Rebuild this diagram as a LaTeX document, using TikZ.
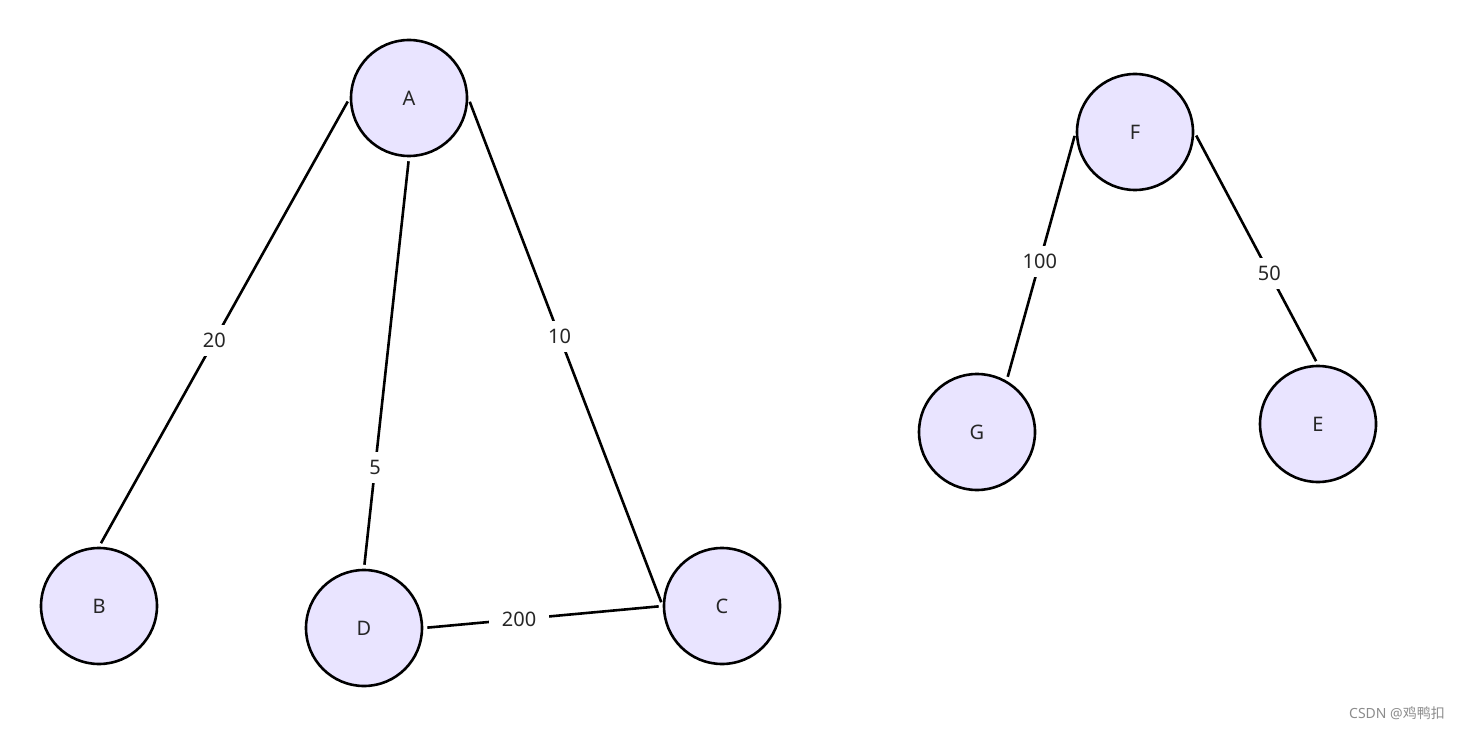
\documentclass[tikz,border=0pt]{standalone}
\usepackage{fontspec}
\setmainfont{Noto Sans}
\newfontfamily\cjkfont{Noto Sans CJK SC}
\definecolor{nodefill}{HTML}{E9E4FF}
\usetikzlibrary{positioning}

\begin{document}
\begin{tikzpicture}[x=1pt, y=-1pt,
    vertex/.style={circle, draw=black, line width=2.6pt, fill=nodefill,
      minimum size=116pt, inner sep=0pt, text=black!85,
      font=\fontsize{20}{24}\selectfont},
    edge/.style={line width=2.6pt, shorten <=4pt, shorten >=4pt},
    weight/.style={fill=white, inner xsep=13pt, inner ysep=8pt,
      text=black!85, font=\fontsize{20}{24}\selectfont}]
  \useasboundingbox (0,0) rectangle (1461,730);
  % left graph
  \node[vertex] (A) at (409,98) {A};
  \node[vertex] (B) at (99,606) {B};
  \node[vertex] (D) at (364,628) {D};
  \node[vertex] (C) at (722,606) {C};
  % right graph
  \node[vertex] (F) at (1135,132) {F};
  \node[vertex] (G) at (977,432) {G};
  \node[vertex] (E) at (1318,424) {E};
  % edges with weights
  \draw[edge] (A.west) -- (B.north) node[weight, pos=0.54] (wAB) {20};
  \draw[edge] (A.south) -- (D.north) node[weight, pos=0.754] (wAD) {5};
  \draw[edge] (A.east) -- (C.west) node[weight, pos=0.47] (wAC) {10};
  \draw[edge] (D.east) -- (C.west) node[weight, pos=0.40] (wDC) {200};
  \draw[edge] (F.west) -- (G.60) node[weight, pos=0.52] (wFG) {100};
  \draw[edge] (F.east) -- (E.north) node[weight, pos=0.607] (wFE) {50};
  % watermark
  \node[text=black!45, font=\fontsize{14}{16}\selectfont] (mark) at (1397,713)
    {CSDN @{\cjkfont 鸡鸭扣}};
\end{tikzpicture}
\end{document}
